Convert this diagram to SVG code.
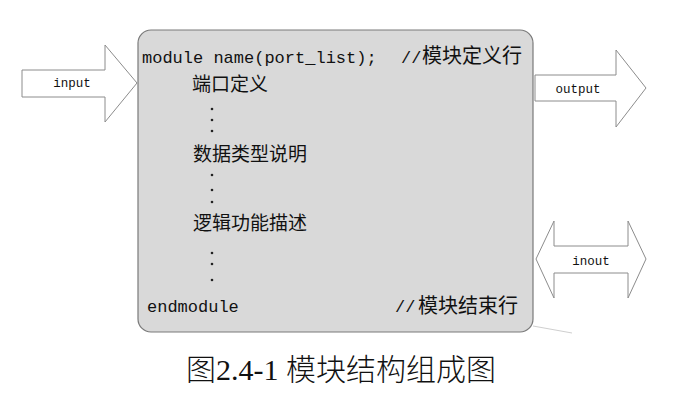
<svg xmlns="http://www.w3.org/2000/svg" width="685" height="408" viewBox="0 0 685 408">
<style>
.arrow{fill:#ffffff;stroke:#8c8c8c;stroke-width:1}
.mono{font-family:"Liberation Mono","DejaVu Sans Mono",monospace;fill:#111}
.cjk{font-family:"Noto Sans CJK SC","Noto Sans",sans-serif;fill:#111}
.lbl{font-family:"Liberation Mono","DejaVu Sans Mono",monospace;font-size:12.5px;fill:#111;text-anchor:middle}
.dot{fill:#222}
</style>
<rect width="685" height="408" fill="#ffffff"/>
<g id="connectors">
<line x1="533" y1="326" x2="572" y2="333" stroke="#cfcfcf" stroke-width="1"/>
</g>
<g id="input">
<polygon class="arrow" points="22,70 105,70 105,45 137,83 105,122 105,97 22,97"/>
<text class="lbl" x="72" y="87">input</text>
</g>
<g id="output">
<polygon class="arrow" points="535,75 616,75 616,50 646,88 616,127 616,101 535,101"/>
<text class="lbl" x="578" y="93">output</text>
</g>
<g id="inout">
<polygon class="arrow" points="536,259 554,221 554,246 628,246 628,221 646,259 628,298 628,273 554,273 554,298"/>
<text class="lbl" x="591" y="265">inout</text>
</g>
<g id="module">
<rect x="138" y="30" width="395" height="302" rx="13" ry="13" fill="#d9d9d9" stroke="#7a7a7a" stroke-width="1.2"/>
<text class="mono" x="142" y="63" font-size="17">module name(port_list);</text>
<text class="mono" x="401" y="63" font-size="17">//</text>
<text class="cjk" x="422" y="63" font-size="20">模块定义行</text>
<text class="cjk" x="192" y="91" font-size="19">端口定义</text>
<circle class="dot" cx="212" cy="109" r="1.3"/>
<circle class="dot" cx="212" cy="120" r="1.3"/>
<circle class="dot" cx="212" cy="131" r="1.3"/>
<text class="cjk" x="193" y="161" font-size="19">数据类型说明</text>
<circle class="dot" cx="212" cy="175" r="1.3"/>
<circle class="dot" cx="212" cy="190" r="1.3"/>
<circle class="dot" cx="212" cy="202" r="1.3"/>
<text class="cjk" x="193" y="230" font-size="19">逻辑功能描述</text>
<circle class="dot" cx="212" cy="253" r="1.3"/>
<circle class="dot" cx="212" cy="264" r="1.3"/>
<circle class="dot" cx="212" cy="280" r="1.3"/>
<text class="mono" x="147" y="312" font-size="17">endmodule</text>
<text class="mono" x="395" y="312" font-size="17">//</text>
<text class="cjk" x="418" y="313" font-size="20">模块结束行</text>
</g>
<g id="caption">
<text x="341" y="380" font-size="30" font-weight="300" text-anchor="middle" font-family="'Liberation Serif','Noto Sans CJK SC',serif" fill="#111">图2.4-1 模块结构组成图</text>
</g>
</svg>
